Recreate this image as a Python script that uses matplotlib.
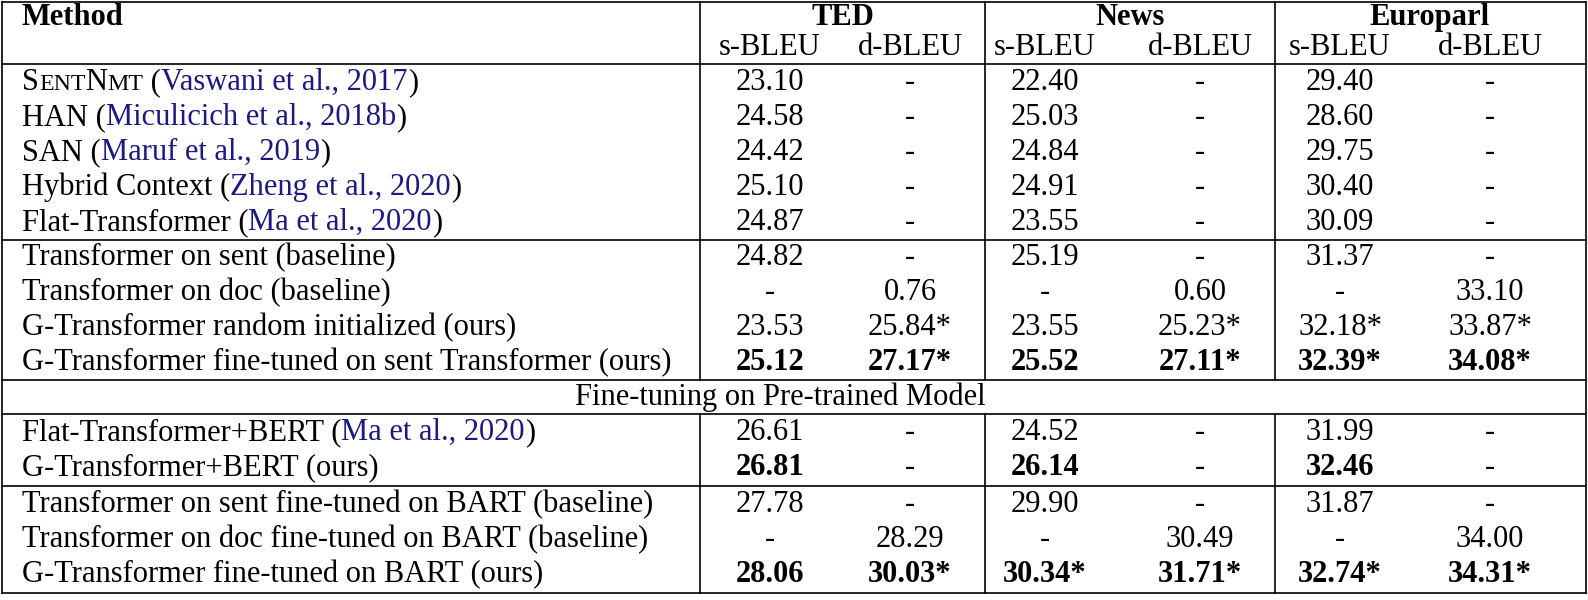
import matplotlib
matplotlib.use("Agg")
import matplotlib.pyplot as plt

plt.rcParams['font.family'] = ['Liberation Serif', 'DejaVu Serif']

W, H = 1588, 600
FS = 22
LINK = '#1a1a80'

# --- table data ---
# method cells: list of (text, color, size_scale) segments
methods = [
    [("S", 'k', 1), ("ENT", 'k', 0.78), ("N", 'k', 1), ("MT", 'k', 0.78), (" (", 'k', 1),
     ("Vaswani et al., 2017", LINK, 1), (")", 'k', 1)],
    [("HAN (", 'k', 1), ("Miculicich et al., 2018b", LINK, 1), (")", 'k', 1)],
    [("SAN (", 'k', 1), ("Maruf et al., 2019", LINK, 1), (")", 'k', 1)],
    [("Hybrid Context (", 'k', 1), ("Zheng et al., 2020", LINK, 1), (")", 'k', 1)],
    [("Flat-Transformer (", 'k', 1), ("Ma et al., 2020", LINK, 1), (")", 'k', 1)],
    [("Transformer on sent (baseline)", 'k', 1)],
    [("Transformer on doc (baseline)", 'k', 1)],
    [("G-Transformer random initialized (ours)", 'k', 1)],
    [("G-Transformer fine-tuned on sent Transformer (ours)", 'k', 1)],
    None,
    [("Flat-Transformer+BERT (", 'k', 1), ("Ma et al., 2020", LINK, 1), (")", 'k', 1)],
    [("G-Transformer+BERT (ours)", 'k', 1)],
    [("Transformer on sent fine-tuned on BART (baseline)", 'k', 1)],
    [("Transformer on doc fine-tuned on BART (baseline)", 'k', 1)],
    [("G-Transformer fine-tuned on BART (ours)", 'k', 1)],
]
ted_s = ["23.10", "24.58", "24.42", "25.10", "24.87", "24.82", "-", "23.53", "25.12", None,
         "26.61", "26.81", "27.78", "-", "28.06"]
ted_d = ["-", "-", "-", "-", "-", "-", "0.76", "25.84*", "27.17*", None,
         "-", "-", "-", "28.29", "30.03*"]
news_s = ["22.40", "25.03", "24.84", "24.91", "23.55", "25.19", "-", "23.55", "25.52", None,
          "24.52", "26.14", "29.90", "-", "30.34*"]
news_d = ["-", "-", "-", "-", "-", "-", "0.60", "25.23*", "27.11*", None,
          "-", "-", "-", "30.49", "31.71*"]
euro_s = ["29.40", "28.60", "29.75", "30.40", "30.09", "31.37", "-", "32.18*", "32.39*", None,
          "31.99", "32.46", "31.87", "-", "32.74*"]
euro_d = ["-", "-", "-", "-", "-", "-", "33.10", "33.87*", "34.08*", None,
          "-", "-", "-", "34.00", "34.31*"]
bold_rows = {8: [1, 1, 1, 1, 1, 1], 11: [1, 0, 1, 0, 1, 0], 14: [1, 1, 1, 1, 1, 1]}
section_row = 9
section_text = "Fine-tuning on Pre-trained Model"

# --- layout (pixel coords) ---
row_y = [82, 117, 152, 187, 222, 257, 292, 327, 362, 397, 432, 467, 504, 539, 574]
col_x = [770, 910, 1045, 1200, 1340, 1490]
group_x = [843, 1130, 1430]
groups = ["TED", "News", "Europarl"]
vlines = [700, 985, 1275]
hlines = [2, 64, 240, 380, 414, 486, 593]
BASE = 8  # baseline offset below row centre

fig = plt.figure(figsize=(W / 100, H / 100), dpi=100)
ax = fig.add_axes([0, 0, 1, 1])
ax.set_xlim(0, W)
ax.set_ylim(H, 0)
ax.axis('off')

for y in hlines:
    ax.plot([2, W - 2], [y, y], color='k', lw=1.2)
for x in [2, W - 2]:
    ax.plot([x, x], [2, 593], color='k', lw=1.2)
for x in vlines:
    ax.plot([x, x], [2, 380], color='k', lw=1.2)
    ax.plot([x, x], [414, 593], color='k', lw=1.2)

ax.text(22, 17 + BASE, "Method", fontsize=FS, fontweight='bold', va='baseline')
for gx, g in zip(group_x, groups):
    ax.text(gx, 17 + BASE, g, fontsize=FS, fontweight='bold', va='baseline', ha='center')
for cx, lab in zip(col_x, ["s-BLEU", "d-BLEU"] * 3):
    ax.text(cx, 47 + BASE, lab, fontsize=FS, va='baseline', ha='center')

fig.canvas.draw()
renderer = fig.canvas.get_renderer()

for i, y in enumerate(row_y):
    if i == section_row:
        ax.text(780, y + BASE, section_text, fontsize=FS, va='baseline', ha='center')
        continue
    x = 22
    for txt, color, sc in methods[i]:
        t = ax.text(x, y + BASE, txt, fontsize=FS * sc, color=color, va='baseline')
        x += t.get_window_extent(renderer).width
    vals = [ted_s[i], ted_d[i], news_s[i], news_d[i], euro_s[i], euro_d[i]]
    bolds = bold_rows.get(i, [0] * 6)
    for cx, v, b in zip(col_x, vals, bolds):
        ax.text(cx, y + BASE, v, fontsize=FS, va='baseline', ha='center',
                fontweight='bold' if b else 'normal')

fig.savefig("out.png", dpi=100)
